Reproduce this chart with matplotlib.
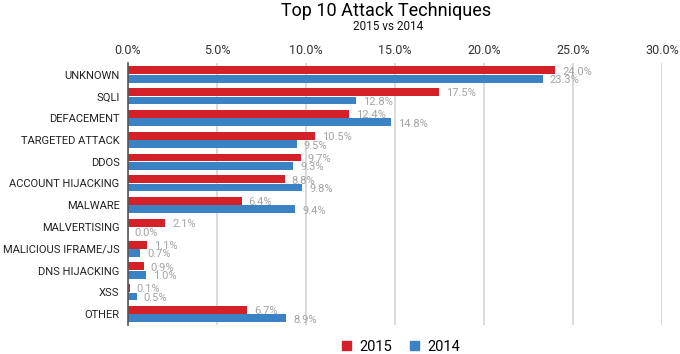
import matplotlib
matplotlib.use('Agg')
from matplotlib import pyplot as plt, ticker
from matplotlib.patches import Patch
import numpy as np

plt.rcParams['font.family'] = ['Roboto', 'DejaVu Sans']

categories = ['UNKNOWN', 'SQLI', 'DEFACEMENT', 'TARGETED ATTACK', 'DDOS',
              'ACCOUNT HIJACKING', 'MALWARE', 'MALVERTISING',
              'MALICIOUS IFRAME/JS', 'DNS HIJACKING', 'XSS', 'OTHER']
v2015 = [24.0, 17.5, 12.4, 10.5, 9.7, 8.8, 6.4, 2.1, 1.1, 0.9, 0.1, 6.7]
v2014 = [23.3, 12.8, 14.8, 9.5, 9.3, 9.8, 9.4, 0.0, 0.7, 1.0, 0.5, 8.9]

red = '#d42027'
blue = '#3b82c4'
grey = '#a3a3a3'

fig = plt.figure(figsize=(6.8, 3.54), dpi=100)
ax = fig.add_axes([0.188, 0.082, 0.7855, 0.74])

y = np.arange(len(categories))
h = 0.36
ax.barh(y - h / 2 - 0.01, v2015, height=h, color=red)
ax.barh(y + h / 2 + 0.01, v2014, height=h, color=blue)

for i in range(len(categories)):
    ax.annotate('%.1f%%' % v2015[i], (v2015[i], y[i] - h / 2 + 0.05), xytext=(5, 0),
                textcoords='offset points', va='center', ha='left', color=grey, fontsize=8)
    ax.annotate('%.1f%%' % v2014[i], (v2014[i], y[i] + h / 2 + 0.08), xytext=(5, 0),
                textcoords='offset points', va='center', ha='left', color=grey, fontsize=8)

ax.set_xlim(0, 30)
ax.set_ylim(11.5, -0.53)
ax.set_yticks(y)
ax.set_yticklabels(categories, fontsize=8, color='#222222')
ax.xaxis.tick_top()
ax.xaxis.set_major_locator(ticker.MultipleLocator(5))
ax.xaxis.set_major_formatter(ticker.FormatStrFormatter('%.1f%%'))
ax.tick_params(axis='x', length=0, labelsize=9, labelcolor='#333333', pad=4)
ax.tick_params(axis='y', length=0, pad=6)
ax.grid(axis='x', color='#d4d4d4', linewidth=1.2)
ax.set_axisbelow(True)
for s in ['top', 'right', 'bottom']:
    ax.spines[s].set_visible(False)
ax.spines['left'].set_color('#555555')
ax.spines['left'].set_linewidth(1.2)

fig.text(0.568, 0.968, 'Top 10 Attack Techniques', ha='center', va='center',
         fontsize=13, color='#000000')
fig.text(0.571, 0.925, '2015 vs 2014', ha='center', va='center',
         fontsize=8.5, color='#111111')

handles = [Patch(color=red, label='2015'), Patch(color=blue, label='2014')]
fig.legend(handles=handles, loc='center', bbox_to_anchor=(0.59, 0.02), ncol=2,
           frameon=False, fontsize=10.5, handlelength=0.6, handleheight=0.6,
           handletextpad=0.6, columnspacing=1.2)

fig.savefig('out.png', dpi=100)
